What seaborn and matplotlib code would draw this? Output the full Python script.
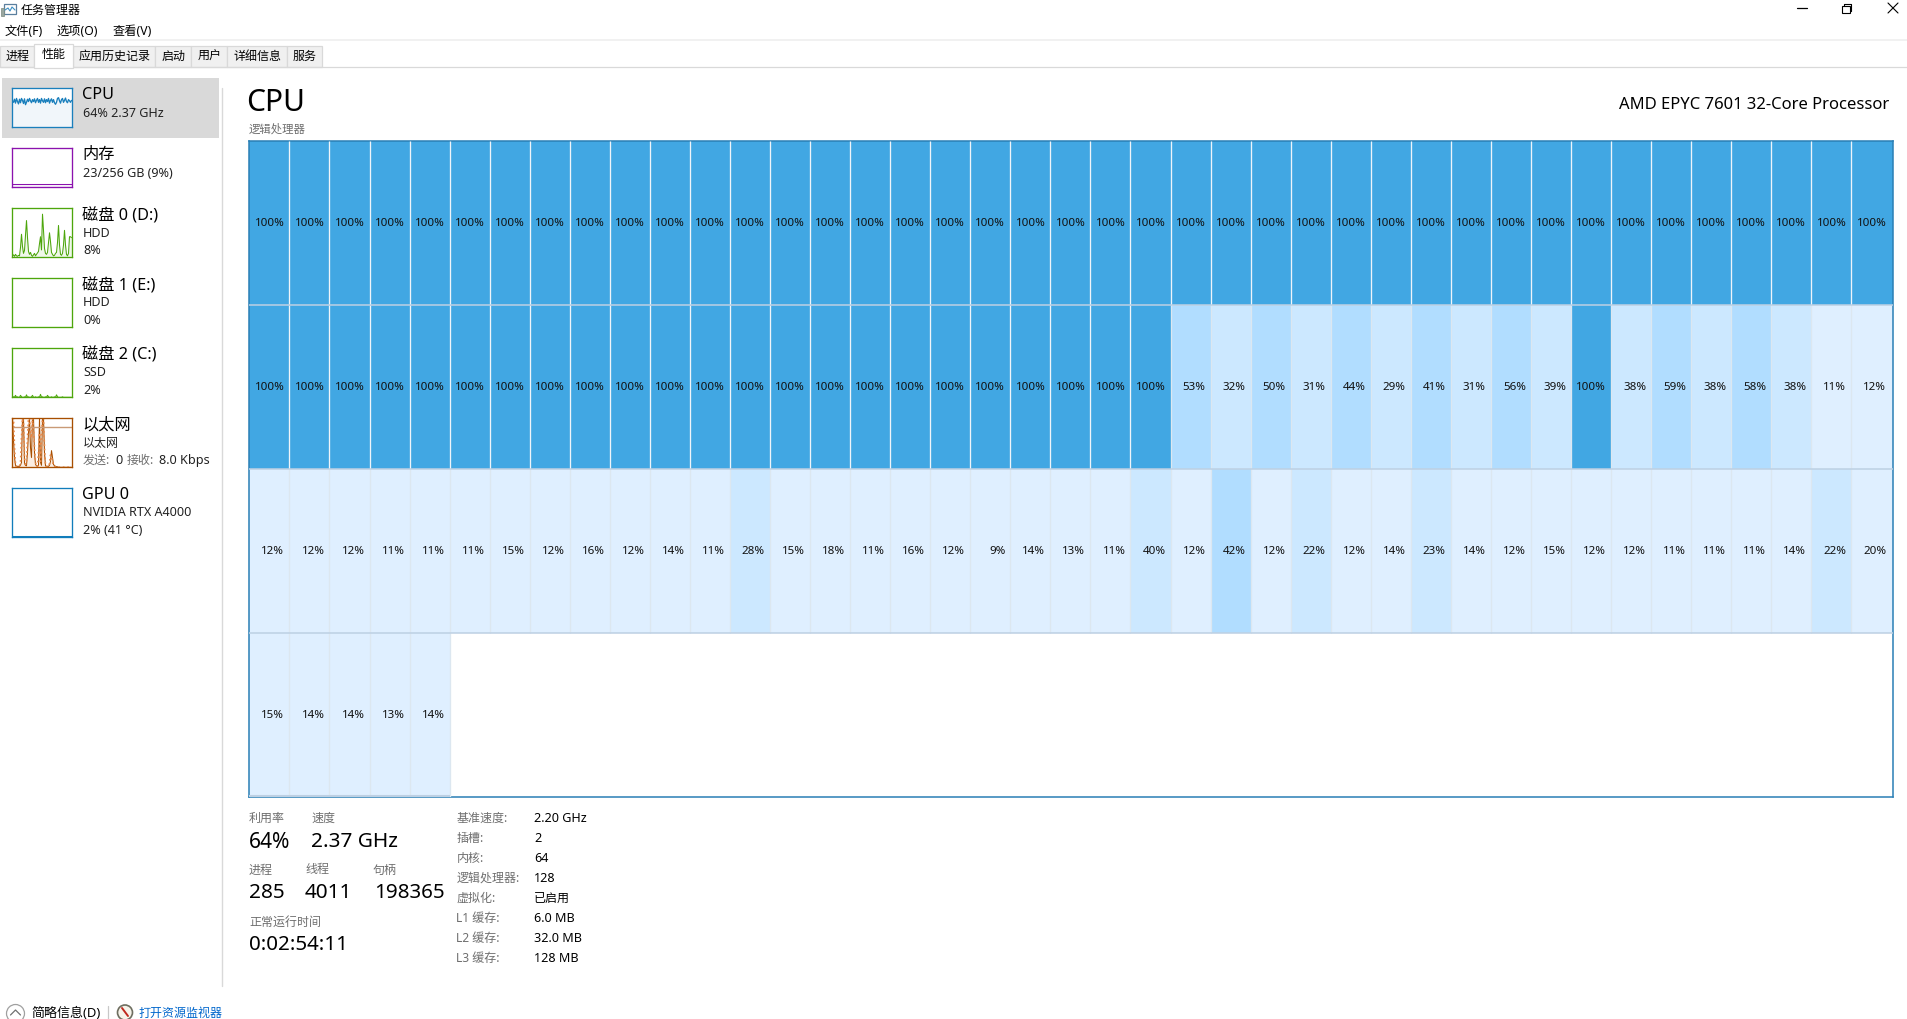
import numpy as np
import matplotlib
matplotlib.use("Agg")
import matplotlib.pyplot as plt
from matplotlib.colors import ListedColormap, BoundaryNorm
from matplotlib.patches import Rectangle, Circle
import pandas as pd
import seaborn as sns

# ---------- data ----------
row1 = [100] * 41
row2 = [100] * 23 + [53, 32, 50, 31, 44, 29, 41, 31, 56, 39, 100, 38, 59, 38, 58, 38, 11, 12]
row3 = [12, 12, 12, 11, 11, 11, 15, 12, 16, 12, 14, 11, 28, 15, 18, 11, 16, 12, 9, 14, 13, 11, 40,
        12, 42, 12, 22, 12, 14, 23, 14, 12, 15, 12, 12, 11, 11, 11, 14, 22, 20]
row4 = [15, 14, 14, 13, 14]

cpu_hist = [68, 64, 72, 62, 74, 66, 60, 72, 63, 74, 69, 61, 73, 58, 64, 72, 66, 74, 68, 63, 71, 66, 73, 63,
            69, 74, 64, 71, 62, 74, 68, 64, 73, 63, 71, 66, 74, 62, 69, 73, 64, 71, 63, 59, 64, 74, 76, 68,
            62, 71, 74, 64, 69, 75, 66, 63, 71, 68, 64, 69]
mem_hist = [9] * 60
disk0_hist = [3, 5, 2, 6, 3, 2, 4, 3, 20, 47, 22, 8, 14, 45, 75, 40, 12, 6, 10, 4, 2, 5, 8, 3, 6, 9, 12, 28, 42, 15,
              88, 55, 18, 8, 6, 10, 30, 50, 32, 10, 6, 3, 4, 8, 10, 30, 65, 25, 6, 4, 8, 25, 55, 25, 6, 3, 8, 42, 42, 40]
disk1_hist = [0] * 60
disk2_hist = [1, 1, 0, 4, 0, 1, 0, 0, 4, 1, 0, 0, 1, 0, 5, 0, 1, 0, 0, 1, 4, 0, 0, 1, 0, 0, 1, 0, 6, 0,
              1, 0, 0, 1, 0, 4, 1, 0, 0, 1, 0, 0, 1, 0, 5, 1, 0, 0, 0, 0, 1, 0, 0, 0, 0, 0, 0, 0, 0, 0]
eth_recv = [100, 55, 20, 4, 2, 2, 2, 2, 4, 10, 100, 100, 8, 4, 3, 30, 70, 100, 40, 20, 100, 100, 30, 6, 3, 2, 4, 100, 10, 4,
            100, 100, 30, 3, 2, 2, 2, 4, 12, 34, 20, 6, 3, 2, 1, 1, 0, 0, 0, 0, 0, 0, 0, 0, 0, 0, 0, 0, 0, 0]
eth_send = [80, 100, 40, 6, 1, 1, 1, 3, 8, 60, 100, 90, 20, 6, 10, 60, 100, 100, 70, 60, 100, 80, 40, 10, 2, 2, 30, 70, 12, 60,
            100, 100, 40, 4, 2, 1, 1, 8, 25, 20, 12, 3, 2, 1, 0, 0, 0, 0, 0, 0, 0, 0, 0, 0, 0, 0, 0, 0, 0, 0]
eth_scale = 82
gpu_hist = [2] * 60

tab_labels = ["进程", "性能", "应用历史记录", "启动", "用户", "详细信息", "服务"]
menu_labels = ["文件(F)", "选项(O)", "查看(V)"]
side_titles = ["CPU", "内存", "磁盘 0 (D:)", "磁盘 1 (E:)", "磁盘 2 (C:)", "以太网", "GPU 0"]
side_lines = [["64% 2.37 GHz"], ["23/256 GB (9%)"], ["HDD", "8%"], ["HDD", "0%"], ["SSD", "2%"],
              ["以太网"], ["NVIDIA RTX A4000", "2% (41 °C)"]]
info_keys = ["基准速度:", "插槽:", "内核:", "逻辑处理器:", "虚拟化:", "L1 缓存:", "L2 缓存:", "L3 缓存:"]
info_vals = ["2.20 GHz", "2", "64", "128", "已启用", "6.0 MB", "32.0 MB", "128 MB"]

# ---------- theme ----------
sns.set_theme(style="white")
plt.rcParams["font.family"] = ["Noto Sans", "Noto Sans CJK SC", "DejaVu Sans"]

W, H = 1908, 1019
fig = plt.figure(figsize=(W / 100, H / 100), dpi=100, facecolor="white")
GREY = "#6f6f6f"


def px(size):
    return size * 0.72


ui = fig.add_axes([0, 0, 1, 1], zorder=0)
ui.set_xlim(0, W)
ui.set_ylim(H, 0)
ui.axis("off")


def label(x, y, s, size=12, color="black", ha="left", **kw):
    ui.text(x, y, s, fontsize=px(size), color=color, ha=ha, va="center", **kw)


def box(x0, y0, x1, y1, fc="none", ec="none", lw=1.0, z=1):
    ui.add_patch(Rectangle((x0, y0), x1 - x0, y1 - y0, fc=fc, ec=ec, lw=lw, zorder=z))


# title bar
box(4, 4, 16, 14, fc="white", ec="#5a7f9e", lw=0.9)
ui.plot([5, 8, 10, 12, 15], [10, 8, 11, 7, 10], color="#3c8fc4", lw=0.8)
box(1, 8, 4, 16, fc="#9aa7a0", ec="#7b8a80", lw=0.5)
label(21, 10, "任务管理器", 12)
for x, s in zip([5, 56.5, 113], menu_labels):
    label(x, 31, s, 12.2)
ui.plot([0, W], [40, 40], color="#f0f0f0", lw=1.3)

# window buttons
ui.plot([1797, 1807], [8, 8], color="black", lw=0.9)
box(1842, 6, 1850, 13, fc="white", ec="black", lw=0.8, z=3)
ui.plot([1844, 1844, 1851, 1851, 1850], [6, 3.5, 3.5, 11, 11], color="black", lw=0.8)
ui.plot([1888, 1898], [3, 13], color="black", lw=0.8)
ui.plot([1888, 1898], [13, 3], color="black", lw=0.8)

# tabs
ui.plot([0, W], [67.3, 67.3], color="#d9d9d9", lw=0.9)
tab_edges = [0, 34, 73, 155, 191, 227, 287, 322]
for i, s in enumerate(tab_labels):
    x0, x1 = tab_edges[i], tab_edges[i + 1]
    active = i == 1
    box(x0, 43.5 if active else 45.5, x1, 68 if active else 67.3,
        fc="white" if active else "#f0f0f0", ec="#d9d9d9", lw=0.9, z=2 if active else 1)
    ui.text((x0 + x1) / 2 + 0.5, 54.5 if active else 56.5, s, fontsize=px(12), color="black",
            ha="center", va="center", zorder=3)

# sidebar
box(2, 78, 219, 138, fc="#d9d9d9")
ui.plot([222.5, 222.5], [88, 986], color="#d9d9d9", lw=1.0)
title_y = [95.2, 155.2, 216, 286, 355.3, 425.2, 495]
line_y = [[113], [173], [233, 250], [303, 320.5], [373, 390.5], [443], [513, 530.5]]
for s, ty, lines, ys in zip(side_titles, title_y, side_lines, line_y):
    label(82, ty, s, 16.2)
    for ln, yy in zip(lines, ys):
        label(83, yy, ln, 12 if ln == "以太网" else 12.6, color="#222222")
label(83, 460.5, "发送:", 12, color=GREY)
label(115, 460.5, "0", 12.6, color="#222222")
label(127, 460.5, "接收:", 12, color=GREY)
label(159.5, 460.5, "8.0 Kbps", 12.6, color="#222222")


def thumb(y0, y1, color, series, fill=None, ylim=100, extra=None, ref=None, lw=0.75):
    ax = fig.add_axes([12.5 / W, 1 - y1 / H, 59 / W, (y1 - y0) / H], zorder=2, facecolor="white")
    t = np.arange(len(series))
    sns.lineplot(x=t, y=series, ax=ax, color=color, lw=lw, errorbar=None)
    if fill:
        ax.fill_between(t, 0, series, color=fill, lw=0)
    if extra is not None:
        sns.lineplot(x=t, y=extra, ax=ax, color="#e8894a", lw=1.2, linestyle=":", errorbar=None)
    if ref is not None:
        ax.axhline(ref, color="#c99a76", lw=1.0)
    ax.set_xlim(0, len(series) - 1)
    ax.set_ylim(0, ylim)
    ax.set_xticks([])
    ax.set_yticks([])
    ax.set_xlabel("")
    ax.set_ylabel("")
    for sp in ax.spines.values():
        sp.set_visible(True)
        sp.set_color(color)
        sp.set_linewidth(0.95)
    return ax


thumb(88.3, 127.3, "#1a7fbc", cpu_hist, fill="#f1f6fa", lw=0.95)
thumb(148.3, 187.3, "#8b12ae", mem_hist, fill="#f9f5fb")
thumb(208.3, 257.3, "#4da60c", disk0_hist, fill="#eff7e9")
thumb(278.3, 327.3, "#4da60c", disk1_hist)
thumb(348.3, 397.3, "#4da60c", disk2_hist, fill="#eff7e9")
thumb(418.3, 467.3, "#a74f01", eth_recv, fill="#fbeee3", extra=eth_send, ref=eth_scale)
thumb(488.3, 537.3, "#117dbb", gpu_hist)

# header
label(246, 102.5, "CPU", 30)
label(248.5, 130, "逻辑处理器", 11.4, color=GREY)
label(1889, 105, "AMD EPYC 7601 32-Core Processor", 16.6, ha="right")

# heat grid
ncols = len(row1)
pad = [np.nan] * (ncols - len(row4))
matrix = pd.DataFrame([row1, row2, row3, row4 + pad])
mask = matrix.isna()
annot = matrix.apply(lambda c: c.map(lambda v: "" if pd.isna(v) else f"{int(v)}%"))

cmap = ListedColormap(["#dfefff", "#cce8ff", "#b1ddff", "#41a7e3"])
norm = BoundaryNorm([0, 21, 41, 100, 101], cmap.N)

cell_w = 40.05
g_left, g_right, g_top, g_bot = 249.4, 1893.3, 140.5, 796.5
ax = fig.add_axes([g_left / W, 1 - g_bot / H, (g_right - g_left) / W, (g_bot - g_top) / H], zorder=3)
sns.heatmap(matrix, ax=ax, mask=mask, cmap=cmap, norm=norm, cbar=False, annot=annot, fmt="",
            annot_kws={"color": "#111111", "fontsize": px(11.6)},
            xticklabels=False, yticklabels=False, linewidths=0)
ax.set_facecolor("white")
x_end = (g_right - g_left) / cell_w
ax.set_xlim(0, x_end)
for t in ax.texts:
    x, y = t.get_position()
    t.set_ha("right")
    t.set_position((x + 0.375, y + 0.006))

vals = matrix.values
# the last column runs on to the frame
for r in range(vals.shape[0]):
    if not np.isnan(vals[r, -1]):
        ax.add_patch(Rectangle((ncols, r), x_end - ncols, 1, fc=cmap(norm(vals[r, -1])), ec="none"))
    for c in range(1, ncols):
        left, right = vals[r, c - 1], vals[r, c]
        if np.isnan(left) and np.isnan(right):
            continue
        col = "#eef4fa" if (left == 100 and right == 100) else "#dce7f0"
        ax.vlines(c, r, r + 1, color=col, lw=0.95, zorder=3)
ax.hlines([1, 2, 3], 0, x_end, color="#bdd0e3", lw=1.1, zorder=4)
ax.hlines(3.995, 0, len(row4), color="#bdd0e3", lw=1.5, zorder=4)
for sp in ax.spines.values():
    sp.set_visible(True)
    sp.set_color("#2a7fb5")
    sp.set_linewidth(1.1)

# stats
label(249, 818.3, "利用率", 12, color=GREY)
label(311, 818.3, "速度", 12, color=GREY)
label(249, 842, "64%", 21)
label(311.5, 842, "2.37 GHz", 20.8)
label(249, 870, "进程", 12, color=GREY)
label(305, 870, "线程", 12, color=GREY)
label(373, 870, "句柄", 12, color=GREY)
label(249, 893, "285", 20.8)
label(305, 893, "4011", 20.8)
label(374, 893, "198365", 20.6)
label(249, 922.7, "正常运行时间", 12, color=GREY)
label(249, 945.3, "0:02:54:11", 20.6)
for i, (k, v) in enumerate(zip(info_keys, info_vals)):
    label(456.3, 818.3 + 20 * i, k, 12, color=GREY)
    label(534.3, 818.3 + 20 * i, v, 12 if v == "已启用" else 12.6)

# footer
ui.add_patch(Circle((15.5, 1013.5), 9, fc="white", ec="#a0a0a0", lw=0.9))
ui.plot([10.5, 15.5, 20.5], [1015, 1010, 1015], color="#707070", lw=0.9)
label(31, 1013, "简略信息(D)", 13)
ui.plot([108.3, 108.3], [1006, 1019], color="#c8c8c8", lw=0.9)
ui.add_patch(Circle((125, 1012.5), 7.5, fc="#f6f3ea", ec="#6e6e60", lw=1.2))
ui.plot([122, 128], [1008, 1016], color="#c0281e", lw=1.4)
label(138, 1013, "打开资源监视器", 12, color="#0066cc")

fig.savefig("out.png", dpi=100, facecolor="white")
